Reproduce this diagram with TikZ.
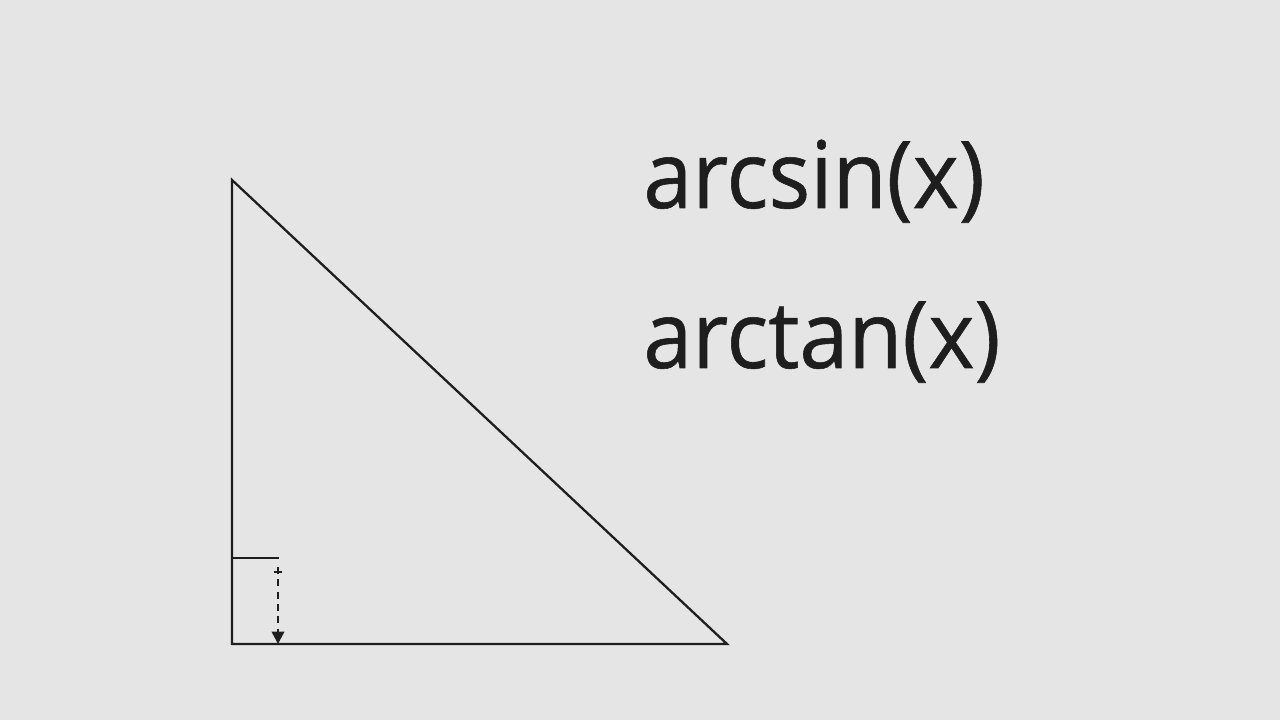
\documentclass[tikz,border=0pt]{standalone}
\usepackage{fontspec}
\setmainfont{Open Sans}
\newfontfamily\labelfont[FakeStretch=0.945,FakeBold=0.6]{Open Sans}
\usetikzlibrary{arrows.meta}
\usetikzlibrary{positioning}
\definecolor{bg}{HTML}{E4E5E4}
\definecolor{ink}{HTML}{1E1E1E}

\begin{document}
\begin{tikzpicture}[x=0.2mm,y=-0.2mm]
    \fill[bg] (0,0) rectangle (1280,720);
    \useasboundingbox (0,0) rectangle (1280,720);
    \begin{scope}[every node/.style={anchor=base west,inner sep=0pt,text=ink,font=\labelfont\fontsize{53}{60}\selectfont}]
    \node (asin) at (643,208) {arcsin(x)};
    \node (atan) at (643,368) {arctan(x)};
    \end{scope}
    \coordinate (top) at (232,180);
    \coordinate (corner) at (232,644);
    \coordinate (right) at (727,644);
    \coordinate (mark) at (279,558);
    \coordinate (tick) at (278,567);
    \coordinate (cross) at (278,572);
    \coordinate (foot) at (278,644);
    \begin{scope}[ink,line width=1.3pt]
    \draw (top) -- (corner) -- (right) -- cycle;
    \draw (corner |- mark) -- (mark);
    \end{scope}
    \draw[ink,line width=1.4pt,dash pattern=on 4pt off 3pt,-{Triangle[width=7pt,length=7pt]}] (tick) -- (foot);
    \draw[ink,line width=1.2pt] ([xshift=-2.5pt]cross) -- ([xshift=2.5pt]cross);
\end{tikzpicture}
\end{document}
